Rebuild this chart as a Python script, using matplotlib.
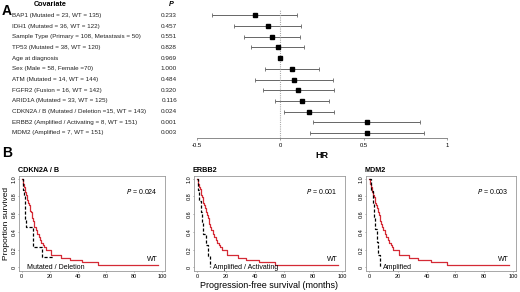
import numpy as np
import matplotlib.pyplot as plt
from matplotlib import transforms

plt.rcParams['font.family'] = ['Liberation Sans', 'DejaVu Sans']

# ---- panel A: forest plot data ----
covariates = [
    "BAP1 (Mutated = 23, WT = 135)",
    "IDH1 (Mutated = 36, WT = 122)",
    "Sample Type (Primary = 108, Metastasis = 50)",
    "TP53 (Mutated = 38, WT = 120)",
    "Age at diagnosis",
    "Sex (Male = 58, Female =70)",
    "ATM (Mutated = 14, WT = 144)",
    "FGFR2 (Fusion = 16, WT = 142)",
    "ARID1A (Mutated = 33, WT = 125)",
    "CDKN2A / B (Mutated / Deletion =15, WT = 143)",
    "ERBB2 (Amplified / Activating = 8, WT = 151)",
    "MDM2 (Amplified = 7, WT = 151)",
]
p_values = ["0.233", "0.457", "0.551", "0.828", "0.969", "1.000",
            "0.484", "0.320", "0.116", "0.024", "0.001", "0.003"]
hr = [-0.152, -0.076, -0.05, -0.016, 0.0, 0.068, 0.082, 0.108, 0.13, 0.172, 0.518, 0.522]
hr_lo = [-0.41, -0.28, -0.22, -0.176, -0.004, -0.094, -0.152, -0.106, -0.032, 0.02, 0.198, 0.18]
hr_hi = [0.10, 0.126, 0.12, 0.14, 0.004, 0.23, 0.316, 0.32, 0.294, 0.322, 0.838, 0.864]

# ---- panel B: Kaplan-Meier curves ----
wt_t = [0, 0.5, 1, 1.5, 2, 2.5, 3, 3.5, 4, 4.5, 5, 5.5, 6, 6.5, 7, 7.5, 8, 8.5, 9,
        10, 11, 12, 13, 14, 15, 16, 17, 21, 28, 34, 43, 54, 97]
wt_s = [1.0, 0.97, 0.94, 0.91, 0.88, 0.85, 0.82, 0.79, 0.76, 0.73, 0.70, 0.67, 0.64,
        0.62, 0.59, 0.56, 0.52, 0.49, 0.46, 0.42, 0.38, 0.34, 0.31, 0.28, 0.25, 0.23,
        0.20, 0.14, 0.11, 0.085, 0.06, 0.033, 0.033]
cdkn_t = [0, 0.5, 1, 1.5, 2, 2.5, 3, 8, 14.5, 22.5]
cdkn_s = [1.0, 0.93, 0.87, 0.8, 0.67, 0.53, 0.46, 0.23, 0.12, 0.12]
erbb_t = [0, 1, 1.5, 2.5, 3.5, 4.5, 6, 7.5, 9.3]
erbb_s = [1.0, 0.875, 0.75, 0.625, 0.5, 0.375, 0.25, 0.125, 0.0]
mdm_t = [0, 1.5, 3, 3.5, 4, 5.5, 6.5, 7.5]
mdm_s = [1.0, 0.857, 0.714, 0.571, 0.429, 0.286, 0.143, 0.0]

km_titles = ["CDKN2A / B", "ERBB2", "MDM2"]
km_mut = [(cdkn_t, cdkn_s), (erbb_t, erbb_s), (mdm_t, mdm_s)]
km_mut_labels = ["Mutated / Deletion", "Amplified / Activating", "Amplified"]
km_p = ["0.024", "0.001", "0.003"]

W, H = 520, 292
fig = plt.figure(figsize=(W / 100, H / 100), dpi=100)


def px(x0, y0, x1, y1):
    return [x0 / W, 1 - y1 / H, (x1 - x0) / W, (y1 - y0) / H]


red = '#d42a35'
gray = '#777777'

# forest plot
ax = fig.add_axes(px(197, 10, 447, 138))
n = len(covariates)
ypos = np.arange(n, 0, -1)
hr_arr = np.array(hr)
err = [hr_arr - np.array(hr_lo), np.array(hr_hi) - hr_arr]
ax.errorbar(hr, ypos, xerr=err, fmt='s', color='black', ms=2.6,
            ecolor='#666666', elinewidth=0.7, capsize=1.3, capthick=0.6)
ax.axvline(0, color='#aaaaaa', lw=0.8, ls=(0, (1, 1)))
ax.set_xlim(-0.5, 1)
ax.set_ylim(0.53, 12.5)
for s in ['top', 'right', 'left']:
    ax.spines[s].set_visible(False)
ax.spines['bottom'].set_color(gray)
ax.spines['bottom'].set_linewidth(0.6)
ax.set_yticks([])
ax.set_xticks([-0.5, 0, 0.5, 1])
ax.set_xticklabels(['-0.5', '0', '0.5', '1'])
ax.tick_params(axis='x', labelsize=4.2, length=1.5, width=0.5, color=gray, pad=2)
ax.set_xlabel('HR', fontsize=6.5, fontweight='bold', labelpad=2)

tr = transforms.blended_transform_factory(fig.transFigure, ax.transData)
for i in range(n):
    ax.text(12 / W, ypos[i], covariates[i], transform=tr, fontsize=4.5,
            va='center', ha='left', color='#222222')
    ax.text(177 / W, ypos[i], p_values[i], transform=tr, fontsize=4.6,
            va='center', ha='right', color='#222222')
ax.text(50 / W, 13.05, 'Covariate', transform=tr, fontsize=5.2, fontweight='bold',
        va='center', ha='center')
ax.text(171 / W, 13.05, 'P', transform=tr, fontsize=5.2, fontweight='bold',
        style='italic', va='center', ha='center')

fig.text(2 / W, 1 - 11 / H, 'A', fontsize=10, fontweight='bold', va='center')
fig.text(2 / W, 1 - 153 / H, 'B', fontsize=10, fontweight='bold', va='center')

# KM panels
boxes = [(19, 165), (194, 345), (366, 516)]
for k in range(3):
    x0, x1 = boxes[k]
    kax = fig.add_axes(px(x0, 176, x1, 271))
    kax.step(wt_t, wt_s, where='post', color=red, lw=0.9)
    mt, ms = km_mut[k]
    kax.step(mt, ms, where='post', color='black', lw=0.9, ls=(0, (2.5, 1.5)))
    kax.set_xlim(-2, 102)
    kax.set_ylim(-0.04, 1.03)
    kax.set_xticks([0, 20, 40, 60, 80, 100])
    kax.set_yticks([0, 0.2, 0.4, 0.6, 0.8, 1.0])
    kax.set_yticklabels(['0', '0.2', '0.4', '0.6', '0.8', '1.0'], rotation=90, va='center')
    kax.tick_params(labelsize=4, length=1, width=0.5, color=gray, pad=0.8)
    for s in kax.spines.values():
        s.set_color('#999999')
        s.set_linewidth(0.6)
    kax.set_title(km_titles[k], loc='left', fontsize=5.2, fontweight='bold', pad=3, x=-0.01)
    kax.text(0.95, 0.84, r'$\it{P}$ = ' + km_p[k], transform=kax.transAxes,
             fontsize=5, ha='right', va='center')
    kax.text(97, 0.05, 'WT', fontsize=5, ha='right', va='bottom')
    lx = [4, 11, 10][k]
    kax.text(lx, 0.005, km_mut_labels[k], fontsize=5, ha='left', va='center')
    if k == 0:
        kax.set_ylabel('Proportion survived', fontsize=6)
        kax.yaxis.set_label_coords(-0.06, 0.5)
    if k == 1:
        kax.set_xlabel('Progression-free survival (months)', fontsize=6.5, labelpad=2)

fig.savefig('out.png', dpi=100)
